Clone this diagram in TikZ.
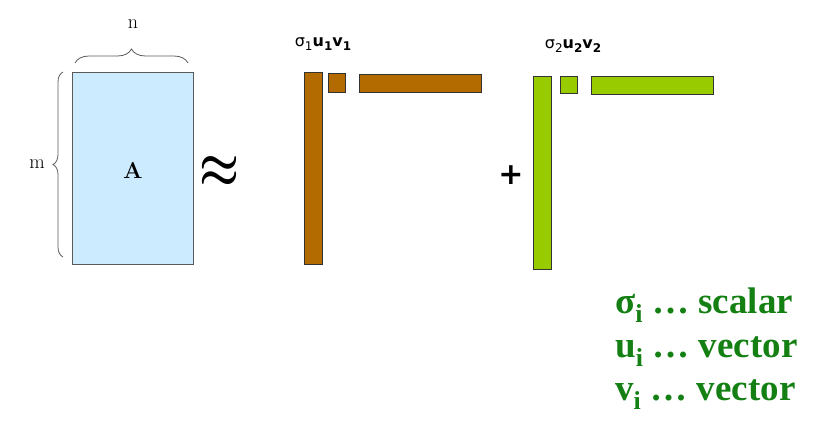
\documentclass[tikz,border=0pt]{standalone}
\usepackage{fontspec}
\usetikzlibrary{decorations.pathreplacing}
\newfontfamily\lblfont{DejaVu Sans}
\newfontfamily\grfont{Liberation Serif}
\definecolor{matblue}{RGB}{204,235,255}
\definecolor{brownbar}{RGB}{179,107,0}
\definecolor{greenbar}{RGB}{153,204,0}
\definecolor{txtgreen}{RGB}{20,128,20}
\definecolor{edgegray}{RGB}{90,90,90}
\newcommand{\sbx}[1]{\raisebox{-0.25em}{\fontsize{12}{14}\selectfont #1}}
\tikzset{
  bar/.style={draw=black!80, line width=0.8pt, inner sep=0pt, anchor=north west},
  brownb/.style={bar, fill=brownbar},
  greenb/.style={bar, fill=greenbar},
  gtext/.style={anchor=base west, inner sep=0pt, text=txtgreen, font=\grfont\bfseries\fontsize{37}{40}\selectfont},
  lbl/.style={inner sep=0pt, font=\lblfont\fontsize{16}{18}\selectfont},
  bracestyle/.style={draw=edgegray, line width=0.8pt, decorate}
}
\begin{document}
\begin{tikzpicture}[x=1pt,y=-1pt]
\useasboundingbox (0,0) rectangle (819,424);
% matrix A
\node[draw=edgegray, line width=0.8pt, fill=matblue, inner sep=0pt, anchor=north west,
  minimum width=121pt, minimum height=192pt] (A) at (72,72) {};
\node[font=\bfseries\fontsize{23}{25}\selectfont, inner sep=0pt] (Alab) at (133,170) {A};
\coordinate (tb1) at (75,63);
\coordinate (tb2) at (188,63);
\draw[bracestyle, decoration={brace, amplitude=14pt}] (tb1) -- (tb2);
\node[font=\fontsize{20}{22}\selectfont, inner sep=0pt] (n) at (133,24) {n};
\coordinate (lb1) at (63,257);
\coordinate (lb2) at (63,72);
\draw[bracestyle, decoration={brace, amplitude=10pt}] (lb1) -- (lb2);
\node[font=\fontsize{20}{22}\selectfont, inner sep=0pt] (m) at (37,164) {m};
\node[inner sep=0pt] (approx) at (220,172) {\resizebox{40pt}{30pt}{\boldmath$\approx$}};
% brown
\node[brownb, minimum width=18pt, minimum height=192pt] (u1) at (304,72) {};
\node[brownb, minimum width=17pt, minimum height=19pt] (s1) at (328,73) {};
\node[brownb, minimum width=122pt, minimum height=18pt] (v1) at (359,74) {};
\node[lbl] (l1) at (323,44) {σ\sbx{1}\textbf{u\sbx{1}v\sbx{1}}};
% plus
\node[font=\lblfont\bfseries\fontsize{30}{32}\selectfont, inner sep=0pt] (plus) at (511,175) {+};
% green
\node[greenb, minimum width=18pt, minimum height=193pt] (u2) at (533,76) {};
\node[greenb, minimum width=17pt, minimum height=17pt] (s2) at (560,76) {};
\node[greenb, minimum width=122pt, minimum height=18pt] (v2) at (591,76) {};
\node[lbl] (l2) at (573,46) {σ\sbx{2}\textbf{u\sbx{2}v\sbx{2}}};
% legend
\node[gtext] (t1) at (615,313) {σ\textsubscript{i} … scalar};
\node[gtext] (t2) at (615,357) {u\textsubscript{i} … vector};
\node[gtext] (t3) at (615,400) {v\textsubscript{i} … vector};
\end{tikzpicture}
\end{document}
